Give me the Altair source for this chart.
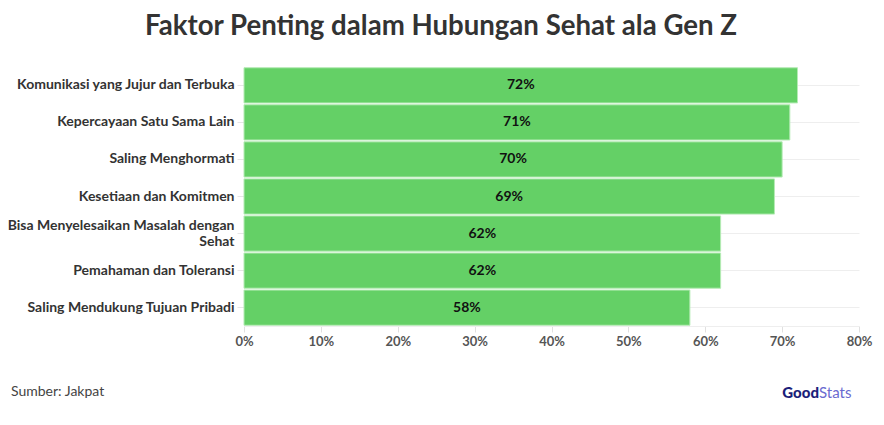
import altair as alt
import pandas as pd

categories = [
    "Komunikasi yang Jujur dan Terbuka",
    "Kepercayaan Satu Sama Lain",
    "Saling Menghormati",
    "Kesetiaan dan Komitmen",
    "Bisa Menyelesaikan Masalah dengan Sehat",
    "Pemahaman dan Toleransi",
    "Saling Mendukung Tujuan Pribadi",
]
values = [0.72, 0.71, 0.70, 0.69, 0.62, 0.62, 0.58]
x_ticks = [0, 0.1, 0.2, 0.3, 0.4, 0.5, 0.6, 0.7, 0.8]

title_text = "Faktor Penting dalam Hubungan Sehat ala Gen Z"
source_text = "Sumber: Jakpat"

df = pd.DataFrame({"kategori": categories, "nilai": values})
df["mid"] = df["nilai"] / 2

FONT = "Lato"
W, H = 615, 259
WRAP = "Bisa Menyelesaikan Masalah dengan Sehat"

y_enc = alt.Y(
    "kategori:N",
    sort=categories,
    scale=alt.Scale(paddingInner=0.05, paddingOuter=0.02),
    axis=alt.Axis(
        title=None,
        domain=False,
        grid=True,
        gridColor="#eeeeee",
        gridWidth=1,
        tickColor="#e6e6e6",
        tickSize=7,
        labelPadding=3,
        labelFont=FONT,
        labelFontSize=14,
        labelFontWeight="bold",
        labelColor="#333333",
        labelLimit=240,
        labelExpr=f"datum.label == '{WRAP}' ? ['Bisa Menyelesaikan Masalah dengan', 'Sehat'] : datum.label",
        labelLineHeight=16,
        labelOffset=alt.condition(f"datum.value == '{WRAP}'", alt.value(-8), alt.value(0)),
    ),
)

base = alt.Chart(df)

bars = base.mark_bar(color="#64d066", stroke="#b5ebb5", strokeWidth=1).encode(
    y=y_enc,
    x=alt.X(
        "nilai:Q",
        scale=alt.Scale(domain=[0, 0.8], nice=False),
        axis=alt.Axis(
            title=None,
            values=x_ticks,
            format=".0%",
            grid=False,
            domainColor="#eeeeee",
            tickColor="#e0e0e0",
            tickSize=6,
            labelPadding=3,
            labelFlush=False,
            labelFont=FONT,
            labelFontSize=13,
            labelFontWeight="bold",
            labelColor="#555555",
        ),
    ),
)

labels = base.mark_text(
    font=FONT, fontSize=14, fontWeight="bold", color="#111111", baseline="middle"
).encode(
    y=alt.Y("kategori:N", sort=categories),
    x=alt.X("mid:Q"),
    text=alt.Text("nilai:Q", format=".0%"),
)

title = alt.Chart(pd.DataFrame({"t": [title_text]})).mark_text(
    font=FONT, fontSize=27.6, fontWeight="bold", color="#333333", align="center", baseline="middle"
).encode(x=alt.value(441 - 244), y=alt.value(27 - 67), text="t:N")

source = alt.Chart(pd.DataFrame({"t": [source_text]})).mark_text(
    font=FONT, fontSize=14, color="#444444", align="left", baseline="middle"
).encode(x=alt.value(11 - 244), y=alt.value(392 - 67), text="t:N")

logo1 = alt.Chart(pd.DataFrame({"t": ["Good"]})).mark_text(
    font=FONT, fontSize=15, fontWeight=900, color="#1c1f7a", align="right", baseline="middle"
).encode(x=alt.value(819 - 244), y=alt.value(393 - 67), text="t:N")

logo2 = alt.Chart(pd.DataFrame({"t": ["Stats"]})).mark_text(
    font=FONT, fontSize=15, fontWeight="normal", color="#6a6ad0", align="left", baseline="middle"
).encode(x=alt.value(819 - 244), y=alt.value(393 - 67), text="t:N")

chart = (
    alt.layer(bars, labels, title, source, logo1, logo2)
    .properties(
        width=W,
        height=H,
        autosize=alt.AutoSizeParams(type="none"),
        padding={"left": 236, "top": 59, "right": 17, "bottom": 91},
        background="white",
    )
    .configure_view(stroke=None)
)

chart.save("out.html", embed_options={"renderer": "svg", "actions": False})
